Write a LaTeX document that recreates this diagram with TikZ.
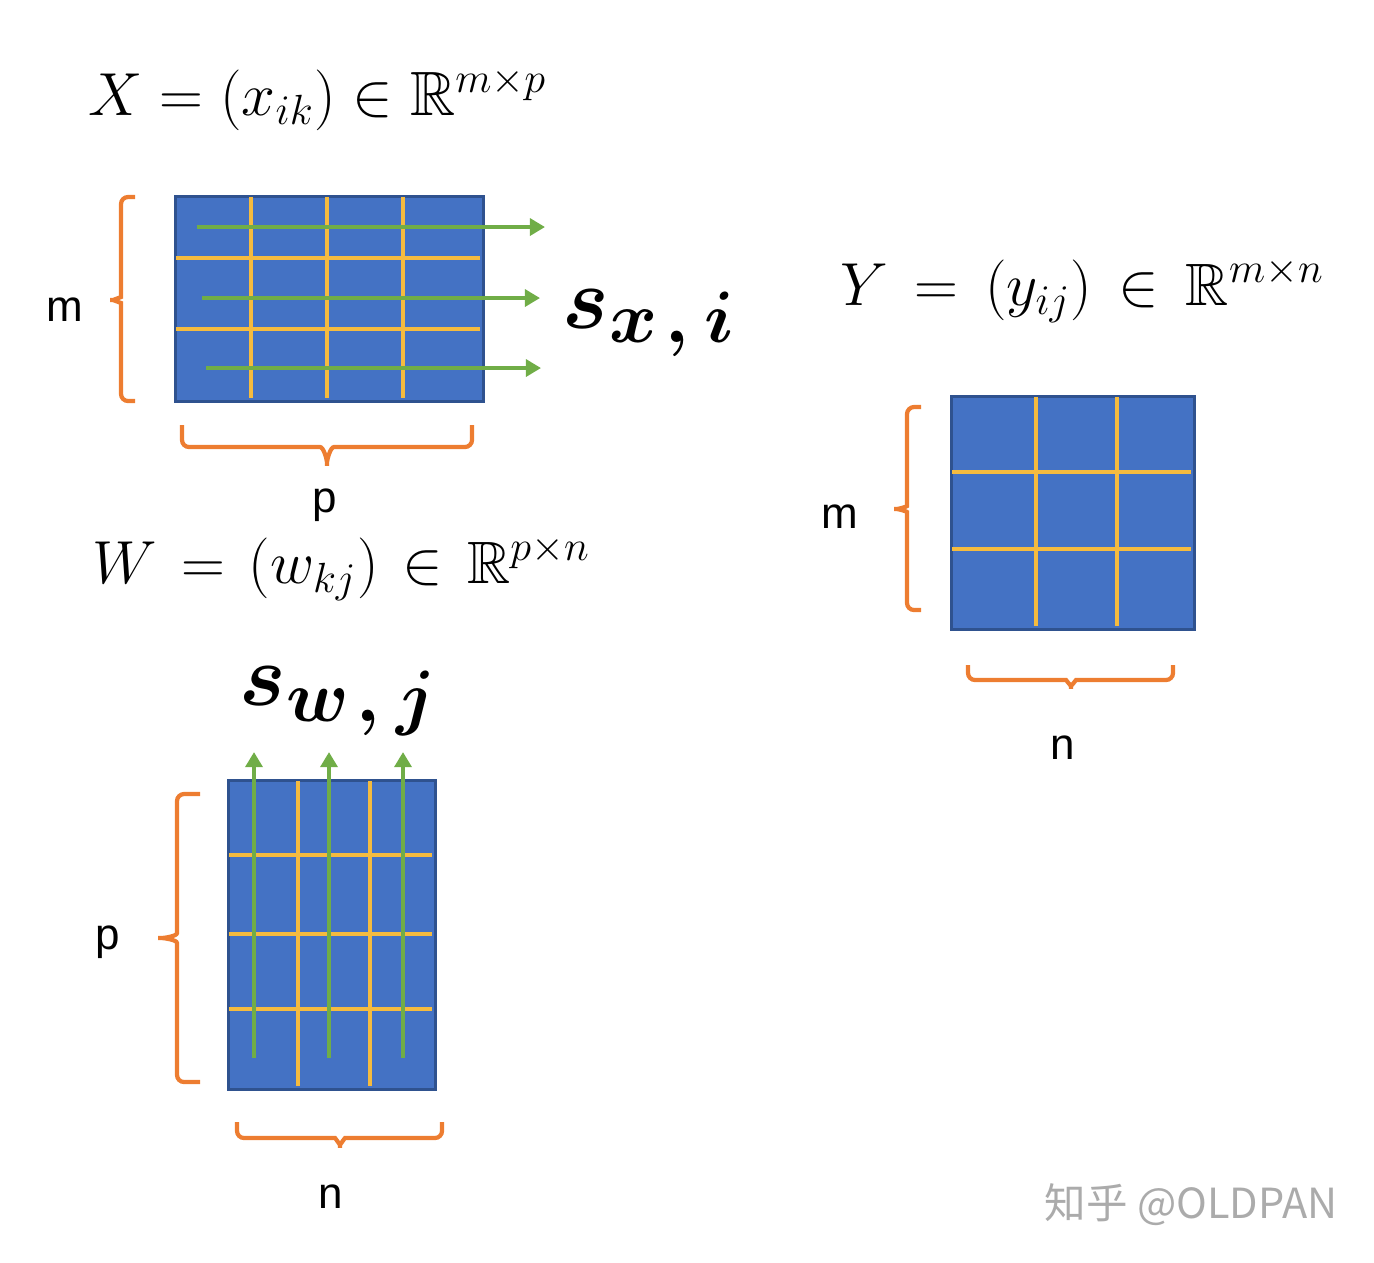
\documentclass[tikz,border=0pt]{standalone}
\usepackage{amssymb}
\usepackage{amsmath}
\usepackage{bm}
\usepackage{fontspec}
\setsansfont{Liberation Sans}
\newfontfamily\cjk{Noto Sans CJK SC}
\usepackage{tikz}
\usetikzlibrary{arrows.meta}

\definecolor{matblue}{HTML}{4472C4}
\definecolor{matedge}{HTML}{2F528F}
\definecolor{gridyel}{HTML}{F5BB3F}
\definecolor{flowgreen}{HTML}{70AD47}
\definecolor{braceorange}{HTML}{ED7D31}
\definecolor{markgray}{HTML}{ABABAB}

\newcommand{\bigsub}[5]{{\fontsize{#1}{#1}\selectfont$\boldsymbol{s}$}\raisebox{-#3}{\fontsize{#2}{#2}\selectfont$\boldsymbol{#4\mkern2mu,\mkern1mu#5}$}}

\begin{document}
\begin{tikzpicture}[x = 0.01cm, y = -0.01cm, mat/.style={draw = matedge, fill = matblue, line width = 0.8pt, anchor = north west, inner sep = 0pt},grid/.style={gridyel, line width = 1.2pt},flow/.style={flowgreen, line width = 1.2pt, -{Triangle[length = 4.3pt, width = 4.8pt]}},brc/.style={braceorange, line width = 1.2pt, rounded corners = 2pt},dim/.style={font = \sffamily\fontsize{12.5}{15}\selectfont},eq/.style={anchor = base west, inner sep = 0pt, font = \fontsize{#1}{20}\selectfont},big/.style={anchor = base west, inner sep = 0pt}]
	
	\useasboundingbox (0,0) rectangle (1374,1262);
	
	% X
	\node[eq = 17.8] (xeq) at (88,115) {$X = (x_{ik}) \in \mathbb{R}^{m\times p}$};
	\node[mat, minimum width = 3.08cm, minimum height = 2.05cm] (X) at (174,195) {};
	\foreach \x in {251,327,403}
		\draw[grid] (\x,197) -- (\x,398);
	\foreach \y in {258,329}
		\draw[grid] (176,\y) -- (480,\y);
	\foreach \i/\y/\xs/\xe in {1/227/197/545, 2/298/202/540, 3/368/206/541} {
		\coordinate (xs\i) at (\xs,\y);
		\coordinate (xe\i) at (\xe,\y);
		\draw[flow] (xs\i) -- (xe\i);
	}
	\draw[brc] (135,197) -- (121,197) -- (121,290) to[out = -90, in = 0] (106,300) to[out = 0, in = 90] (121,310) -- (121,401) -- (135,401);
	\draw[brc] (182,425) -- (182,447) -- (313,447) to[out = 0, in = 90] (327,470) to[out = 90, in = 180] (341,447) -- (472,447) -- (472,425);
	\node[dim] (xm) at (65,310) {m};
	\node[dim] (xp) at (325,505) {p};
	\node[big] (sx) at (562,328) {\bigsub{32}{20}{4pt}{x}{i}};
	
	% Y
	\node[eq = 17] (yeq) at (840,305) {$Y\hspace{0.16em}=\hspace{0.16em}(y_{ij})\hspace{0.16em}\in\hspace{0.16em}\mathbb{R}^{m\times n}$};
	\node[mat, minimum width = 2.43cm, minimum height = 2.33cm] (Y) at (950,395) {};
	\foreach \x in {1036,1117}
		\draw[grid] (\x,397) -- (\x,626);
	\foreach \y in {472,549}
		\draw[grid] (952,\y) -- (1191,\y);
	\draw[brc] (921,407) -- (907,407) -- (907,499) to[out = -90, in = 0] (890,509) to[out = 0, in = 90] (907,519) -- (907,610) -- (921,610);
	\draw[brc] (968,665) -- (968,680) -- (1059,680) to[out = 0, in = 90] (1071,693) to[out = 90, in = 180] (1083,680) -- (1173,680) -- (1173,665);
	\node[dim] (ym) at (840,517) {m};
	\node[dim] (yn) at (1063,748) {n};
	
	% W
	\node[eq = 17] (weq) at (92,583) {$W\hspace{0.12em}=\hspace{0.12em}(w_{kj})\hspace{0.12em}\in\hspace{0.12em}\mathbb{R}^{p\times n}$};
	\node[big] (sw) at (239,705) {\bigsub{26}{20}{4.8pt}{w}{j}};
	\node[mat, minimum width = 2.07cm, minimum height = 3.09cm] (W) at (227,779) {};
	\foreach \x in {298,370}
		\draw[grid] (\x,781) -- (\x,1086);
	\foreach \y in {855,934,1009}
		\draw[grid] (229,\y) -- (432,\y);
	\foreach \i/\x in {1/254, 2/329, 3/403} {
		\coordinate (ws\i) at (\x,1058);
		\coordinate (we\i) at (\x,752);
		\draw[flow] (ws\i) -- (we\i);
	}
	\draw[brc] (200,794) -- (177,794) -- (177,926) to[out = -90, in = 0] (154,938) to[out = 0, in = 90] (177,950) -- (177,1082) -- (200,1082);
	\draw[brc] (237,1122) -- (237,1138) -- (328,1138) to[out = 0, in = 90] (340,1152) to[out = 90, in = 180] (352,1138) -- (442,1138) -- (442,1122);
	\node[dim] (wp) at (108,942) {p};
	\node[dim] (wn) at (331,1197) {n};
	
	\node[markgray, font = \cjk\fontsize{11.8}{14}\selectfont] (mark) at (1191,1205) {知乎 @OLDPAN};
	
\end{tikzpicture}
\end{document}
